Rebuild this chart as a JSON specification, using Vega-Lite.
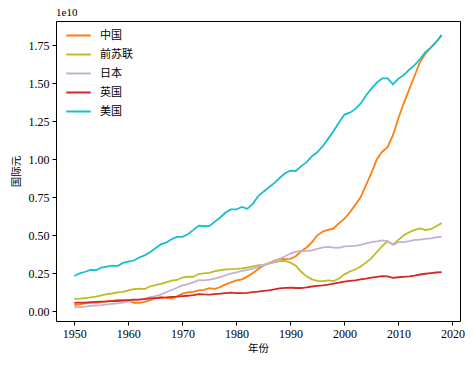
{
"$schema": "https://vega.github.io/schema/vega-lite/v6.json",
"width": 404,
"height": 300,
"autosize": {"type": "none"},
"padding": {"left": 56, "top": 21, "right": 14, "bottom": 45},
"background": "white",
"title": {"text": "1e10", "anchor": "start", "frame": "group", "offset": 3, "fontSize": 11, "fontWeight": "normal", "font": "Liberation Serif", "color": "#000"},
"config": {
  "view": {"stroke": "#000", "strokeWidth": 1},
  "axis": {"grid": false, "domain": false, "tickColor": "#000", "tickSize": 4, "labelColor": "#000", "labelFont": "Liberation Serif, Noto Sans CJK SC", "labelFontSize": 12, "titleFont": "Noto Sans CJK SC", "titleFontSize": 10.5, "titleFontWeight": "normal", "titleColor": "#000"}
},
"datasets": {
"gdp": [
{"c":"中国","year":1950,"v":0.040},{"c":"中国","year":1951,"v":0.045},{"c":"中国","year":1952,"v":0.052},{"c":"中国","year":1953,"v":0.055},{"c":"中国","year":1954,"v":0.057},{"c":"中国","year":1955,"v":0.060},{"c":"中国","year":1956,"v":0.065},{"c":"中国","year":1957,"v":0.068},{"c":"中国","year":1958,"v":0.075},{"c":"中国","year":1959,"v":0.075},{"c":"中国","year":1960,"v":0.072},{"c":"中国","year":1961,"v":0.056},{"c":"中国","year":1962,"v":0.056},{"c":"中国","year":1963,"v":0.062},{"c":"中国","year":1964,"v":0.073},{"c":"中国","year":1965,"v":0.085},{"c":"中国","year":1966,"v":0.093},{"c":"中国","year":1967,"v":0.088},{"c":"中国","year":1968,"v":0.084},{"c":"中国","year":1969,"v":0.098},{"c":"中国","year":1970,"v":0.116},{"c":"中国","year":1971,"v":0.124},{"c":"中国","year":1972,"v":0.128},{"c":"中国","year":1973,"v":0.138},{"c":"中国","year":1974,"v":0.141},{"c":"中国","year":1975,"v":0.152},{"c":"中国","year":1976,"v":0.148},{"c":"中国","year":1977,"v":0.159},{"c":"中国","year":1978,"v":0.177},{"c":"中国","year":1979,"v":0.190},{"c":"中国","year":1980,"v":0.203},{"c":"中国","year":1981,"v":0.210},{"c":"中国","year":1982,"v":0.228},{"c":"中国","year":1983,"v":0.250},{"c":"中国","year":1984,"v":0.277},{"c":"中国","year":1985,"v":0.300},{"c":"中国","year":1986,"v":0.315},{"c":"中国","year":1987,"v":0.332},{"c":"中国","year":1988,"v":0.345},{"c":"中国","year":1989,"v":0.343},{"c":"中国","year":1990,"v":0.345},{"c":"中国","year":1991,"v":0.362},{"c":"中国","year":1992,"v":0.395},{"c":"中国","year":1993,"v":0.420},{"c":"中国","year":1994,"v":0.455},{"c":"中国","year":1995,"v":0.500},{"c":"中国","year":1996,"v":0.525},{"c":"中国","year":1997,"v":0.535},{"c":"中国","year":1998,"v":0.545},{"c":"中国","year":1999,"v":0.580},{"c":"中国","year":2000,"v":0.610},{"c":"中国","year":2001,"v":0.650},{"c":"中国","year":2002,"v":0.700},{"c":"中国","year":2003,"v":0.750},{"c":"中国","year":2004,"v":0.830},{"c":"中国","year":2005,"v":0.910},{"c":"中国","year":2006,"v":1.000},{"c":"中国","year":2007,"v":1.050},{"c":"中国","year":2008,"v":1.080},{"c":"中国","year":2009,"v":1.160},{"c":"中国","year":2010,"v":1.270},{"c":"中国","year":2011,"v":1.370},{"c":"中国","year":2012,"v":1.460},{"c":"中国","year":2013,"v":1.550},{"c":"中国","year":2014,"v":1.640},{"c":"中国","year":2015,"v":1.695},{"c":"中国","year":2016,"v":1.735},{"c":"中国","year":2017,"v":1.772},{"c":"中国","year":2018,"v":1.815},
{"c":"前苏联","year":1950,"v":0.081},{"c":"前苏联","year":1951,"v":0.083},{"c":"前苏联","year":1952,"v":0.087},{"c":"前苏联","year":1953,"v":0.091},{"c":"前苏联","year":1954,"v":0.096},{"c":"前苏联","year":1955,"v":0.105},{"c":"前苏联","year":1956,"v":0.113},{"c":"前苏联","year":1957,"v":0.117},{"c":"前苏联","year":1958,"v":0.125},{"c":"前苏联","year":1959,"v":0.127},{"c":"前苏联","year":1960,"v":0.137},{"c":"前苏联","year":1961,"v":0.145},{"c":"前苏联","year":1962,"v":0.149},{"c":"前苏联","year":1963,"v":0.146},{"c":"前苏联","year":1964,"v":0.163},{"c":"前苏联","year":1965,"v":0.172},{"c":"前苏联","year":1966,"v":0.181},{"c":"前苏联","year":1967,"v":0.190},{"c":"前苏联","year":1968,"v":0.202},{"c":"前苏联","year":1969,"v":0.206},{"c":"前苏联","year":1970,"v":0.222},{"c":"前苏联","year":1971,"v":0.227},{"c":"前苏联","year":1972,"v":0.226},{"c":"前苏联","year":1973,"v":0.245},{"c":"前苏联","year":1974,"v":0.250},{"c":"前苏联","year":1975,"v":0.253},{"c":"前苏联","year":1976,"v":0.264},{"c":"前苏联","year":1977,"v":0.270},{"c":"前苏联","year":1978,"v":0.276},{"c":"前苏联","year":1979,"v":0.277},{"c":"前苏联","year":1980,"v":0.279},{"c":"前苏联","year":1981,"v":0.282},{"c":"前苏联","year":1982,"v":0.288},{"c":"前苏联","year":1983,"v":0.296},{"c":"前苏联","year":1984,"v":0.302},{"c":"前苏联","year":1985,"v":0.305},{"c":"前苏联","year":1986,"v":0.317},{"c":"前苏联","year":1987,"v":0.322},{"c":"前苏联","year":1988,"v":0.330},{"c":"前苏联","year":1989,"v":0.331},{"c":"前苏联","year":1990,"v":0.320},{"c":"前苏联","year":1991,"v":0.300},{"c":"前苏联","year":1992,"v":0.260},{"c":"前苏联","year":1993,"v":0.230},{"c":"前苏联","year":1994,"v":0.210},{"c":"前苏联","year":1995,"v":0.200},{"c":"前苏联","year":1996,"v":0.198},{"c":"前苏联","year":1997,"v":0.203},{"c":"前苏联","year":1998,"v":0.199},{"c":"前苏联","year":1999,"v":0.215},{"c":"前苏联","year":2000,"v":0.243},{"c":"前苏联","year":2001,"v":0.262},{"c":"前苏联","year":2002,"v":0.275},{"c":"前苏联","year":2003,"v":0.295},{"c":"前苏联","year":2004,"v":0.320},{"c":"前苏联","year":2005,"v":0.350},{"c":"前苏联","year":2006,"v":0.390},{"c":"前苏联","year":2007,"v":0.430},{"c":"前苏联","year":2008,"v":0.460},{"c":"前苏联","year":2009,"v":0.440},{"c":"前苏联","year":2010,"v":0.470},{"c":"前苏联","year":2011,"v":0.500},{"c":"前苏联","year":2012,"v":0.520},{"c":"前苏联","year":2013,"v":0.535},{"c":"前苏联","year":2014,"v":0.545},{"c":"前苏联","year":2015,"v":0.535},{"c":"前苏联","year":2016,"v":0.540},{"c":"前苏联","year":2017,"v":0.560},{"c":"前苏联","year":2018,"v":0.580},
{"c":"日本","year":1950,"v":0.025},{"c":"日本","year":1951,"v":0.028},{"c":"日本","year":1952,"v":0.031},{"c":"日本","year":1953,"v":0.035},{"c":"日本","year":1954,"v":0.038},{"c":"日本","year":1955,"v":0.041},{"c":"日本","year":1956,"v":0.045},{"c":"日本","year":1957,"v":0.049},{"c":"日本","year":1958,"v":0.052},{"c":"日本","year":1959,"v":0.057},{"c":"日本","year":1960,"v":0.063},{"c":"日本","year":1961,"v":0.070},{"c":"日本","year":1962,"v":0.076},{"c":"日本","year":1963,"v":0.083},{"c":"日本","year":1964,"v":0.093},{"c":"日本","year":1965,"v":0.100},{"c":"日本","year":1966,"v":0.110},{"c":"日本","year":1967,"v":0.125},{"c":"日本","year":1968,"v":0.140},{"c":"日本","year":1969,"v":0.155},{"c":"日本","year":1970,"v":0.170},{"c":"日本","year":1971,"v":0.178},{"c":"日本","year":1972,"v":0.190},{"c":"日本","year":1973,"v":0.204},{"c":"日本","year":1974,"v":0.203},{"c":"日本","year":1975,"v":0.208},{"c":"日本","year":1976,"v":0.215},{"c":"日本","year":1977,"v":0.225},{"c":"日本","year":1978,"v":0.237},{"c":"日本","year":1979,"v":0.248},{"c":"日本","year":1980,"v":0.256},{"c":"日本","year":1981,"v":0.265},{"c":"日本","year":1982,"v":0.272},{"c":"日本","year":1983,"v":0.280},{"c":"日本","year":1984,"v":0.290},{"c":"日本","year":1985,"v":0.303},{"c":"日本","year":1986,"v":0.312},{"c":"日本","year":1987,"v":0.325},{"c":"日本","year":1988,"v":0.345},{"c":"日本","year":1989,"v":0.362},{"c":"日本","year":1990,"v":0.380},{"c":"日本","year":1991,"v":0.392},{"c":"日本","year":1992,"v":0.396},{"c":"日本","year":1993,"v":0.397},{"c":"日本","year":1994,"v":0.400},{"c":"日本","year":1995,"v":0.410},{"c":"日本","year":1996,"v":0.420},{"c":"日本","year":1997,"v":0.424},{"c":"日本","year":1998,"v":0.419},{"c":"日本","year":1999,"v":0.418},{"c":"日本","year":2000,"v":0.427},{"c":"日本","year":2001,"v":0.429},{"c":"日本","year":2002,"v":0.430},{"c":"日本","year":2003,"v":0.437},{"c":"日本","year":2004,"v":0.447},{"c":"日本","year":2005,"v":0.455},{"c":"日本","year":2006,"v":0.460},{"c":"日本","year":2007,"v":0.467},{"c":"日本","year":2008,"v":0.462},{"c":"日本","year":2009,"v":0.437},{"c":"日本","year":2010,"v":0.455},{"c":"日本","year":2011,"v":0.455},{"c":"日本","year":2012,"v":0.462},{"c":"日本","year":2013,"v":0.470},{"c":"日本","year":2014,"v":0.472},{"c":"日本","year":2015,"v":0.477},{"c":"日本","year":2016,"v":0.480},{"c":"日本","year":2017,"v":0.487},{"c":"日本","year":2018,"v":0.490},
{"c":"英国","year":1950,"v":0.055},{"c":"英国","year":1951,"v":0.057},{"c":"英国","year":1952,"v":0.057},{"c":"英国","year":1953,"v":0.060},{"c":"英国","year":1954,"v":0.062},{"c":"英国","year":1955,"v":0.064},{"c":"英国","year":1956,"v":0.065},{"c":"英国","year":1957,"v":0.067},{"c":"英国","year":1958,"v":0.067},{"c":"英国","year":1959,"v":0.070},{"c":"英国","year":1960,"v":0.074},{"c":"英国","year":1961,"v":0.076},{"c":"英国","year":1962,"v":0.077},{"c":"英国","year":1963,"v":0.080},{"c":"英国","year":1964,"v":0.085},{"c":"英国","year":1965,"v":0.087},{"c":"英国","year":1966,"v":0.089},{"c":"英国","year":1967,"v":0.091},{"c":"英国","year":1968,"v":0.095},{"c":"英国","year":1969,"v":0.097},{"c":"英国","year":1970,"v":0.100},{"c":"英国","year":1971,"v":0.102},{"c":"英国","year":1972,"v":0.106},{"c":"英国","year":1973,"v":0.113},{"c":"英国","year":1974,"v":0.111},{"c":"英国","year":1975,"v":0.110},{"c":"英国","year":1976,"v":0.113},{"c":"英国","year":1977,"v":0.116},{"c":"英国","year":1978,"v":0.120},{"c":"英国","year":1979,"v":0.123},{"c":"英国","year":1980,"v":0.120},{"c":"英国","year":1981,"v":0.119},{"c":"英国","year":1982,"v":0.121},{"c":"英国","year":1983,"v":0.126},{"c":"英国","year":1984,"v":0.129},{"c":"英国","year":1985,"v":0.134},{"c":"英国","year":1986,"v":0.138},{"c":"英国","year":1987,"v":0.144},{"c":"英国","year":1988,"v":0.151},{"c":"英国","year":1989,"v":0.154},{"c":"英国","year":1990,"v":0.155},{"c":"英国","year":1991,"v":0.153},{"c":"英国","year":1992,"v":0.153},{"c":"英国","year":1993,"v":0.157},{"c":"英国","year":1994,"v":0.163},{"c":"英国","year":1995,"v":0.167},{"c":"英国","year":1996,"v":0.171},{"c":"英国","year":1997,"v":0.176},{"c":"英国","year":1998,"v":0.182},{"c":"英国","year":1999,"v":0.188},{"c":"英国","year":2000,"v":0.195},{"c":"英国","year":2001,"v":0.200},{"c":"英国","year":2002,"v":0.204},{"c":"英国","year":2003,"v":0.210},{"c":"英国","year":2004,"v":0.215},{"c":"英国","year":2005,"v":0.221},{"c":"英国","year":2006,"v":0.226},{"c":"英国","year":2007,"v":0.231},{"c":"英国","year":2008,"v":0.230},{"c":"英国","year":2009,"v":0.220},{"c":"英国","year":2010,"v":0.224},{"c":"英国","year":2011,"v":0.227},{"c":"英国","year":2012,"v":0.230},{"c":"英国","year":2013,"v":0.235},{"c":"英国","year":2014,"v":0.242},{"c":"英国","year":2015,"v":0.247},{"c":"英国","year":2016,"v":0.251},{"c":"英国","year":2017,"v":0.255},{"c":"英国","year":2018,"v":0.258},
{"c":"美国","year":1950,"v":0.232},{"c":"美国","year":1951,"v":0.250},{"c":"美国","year":1952,"v":0.260},{"c":"美国","year":1953,"v":0.272},{"c":"美国","year":1954,"v":0.270},{"c":"美国","year":1955,"v":0.288},{"c":"美国","year":1956,"v":0.294},{"c":"美国","year":1957,"v":0.300},{"c":"美国","year":1958,"v":0.297},{"c":"美国","year":1959,"v":0.318},{"c":"美国","year":1960,"v":0.326},{"c":"美国","year":1961,"v":0.334},{"c":"美国","year":1962,"v":0.354},{"c":"美国","year":1963,"v":0.368},{"c":"美国","year":1964,"v":0.389},{"c":"美国","year":1965,"v":0.414},{"c":"美国","year":1966,"v":0.440},{"c":"美国","year":1967,"v":0.452},{"c":"美国","year":1968,"v":0.474},{"c":"美国","year":1969,"v":0.489},{"c":"美国","year":1970,"v":0.490},{"c":"美国","year":1971,"v":0.507},{"c":"美国","year":1972,"v":0.534},{"c":"美国","year":1973,"v":0.564},{"c":"美国","year":1974,"v":0.561},{"c":"美国","year":1975,"v":0.560},{"c":"美国","year":1976,"v":0.590},{"c":"美国","year":1977,"v":0.617},{"c":"美国","year":1978,"v":0.650},{"c":"美国","year":1979,"v":0.670},{"c":"美国","year":1980,"v":0.670},{"c":"美国","year":1981,"v":0.687},{"c":"美国","year":1982,"v":0.674},{"c":"美国","year":1983,"v":0.705},{"c":"美国","year":1984,"v":0.756},{"c":"美国","year":1985,"v":0.787},{"c":"美国","year":1986,"v":0.814},{"c":"美国","year":1987,"v":0.843},{"c":"美国","year":1988,"v":0.877},{"c":"美国","year":1989,"v":0.908},{"c":"美国","year":1990,"v":0.925},{"c":"美国","year":1991,"v":0.923},{"c":"美国","year":1992,"v":0.955},{"c":"美国","year":1993,"v":0.981},{"c":"美国","year":1994,"v":1.020},{"c":"美国","year":1995,"v":1.047},{"c":"美国","year":1996,"v":1.087},{"c":"美国","year":1997,"v":1.136},{"c":"美国","year":1998,"v":1.186},{"c":"美国","year":1999,"v":1.242},{"c":"美国","year":2000,"v":1.294},{"c":"美国","year":2001,"v":1.307},{"c":"美国","year":2002,"v":1.330},{"c":"美国","year":2003,"v":1.366},{"c":"美国","year":2004,"v":1.420},{"c":"美国","year":2005,"v":1.465},{"c":"美国","year":2006,"v":1.505},{"c":"美国","year":2007,"v":1.533},{"c":"美国","year":2008,"v":1.533},{"c":"美国","year":2009,"v":1.493},{"c":"美国","year":2010,"v":1.531},{"c":"美国","year":2011,"v":1.555},{"c":"美国","year":2012,"v":1.590},{"c":"美国","year":2013,"v":1.620},{"c":"美国","year":2014,"v":1.660},{"c":"美国","year":2015,"v":1.705},{"c":"美国","year":2016,"v":1.735},{"c":"美国","year":2017,"v":1.772},{"c":"美国","year":2018,"v":1.820}
]
},
"data": {"name": "gdp"},
"mark": {"type": "line", "strokeWidth": 1.8, "clip": true},
"encoding": {
  "x": {"field": "year", "type": "quantitative", "title": "年份",
        "scale": {"domain": [1946.6, 2021.4], "nice": false, "zero": false},
        "axis": {"values": [1950, 1960, 1970, 1980, 1990, 2000, 2010, 2020], "format": "d", "labelPadding": 3, "titlePadding": 4}},
  "y": {"field": "v", "type": "quantitative", "title": "国际元",
        "scale": {"domain": [-0.064, 1.91], "nice": false, "zero": false},
        "axis": {"values": [0, 0.25, 0.5, 0.75, 1.0, 1.25, 1.5, 1.75], "format": ".2f", "labelPadding": 3, "titlePadding": 7}},
  "color": {"field": "c", "type": "nominal",
        "scale": {"domain": ["中国", "前苏联", "日本", "英国", "美国"], "range": ["#ff7f0e", "#bcbd22", "#c5b0d5", "#d62728", "#17becf"]},
        "legend": {"title": null, "orient": "none", "legendX": 9, "legendY": 1, "symbolType": "stroke", "symbolSize": 600, "symbolStrokeWidth": 2, "labelFont": "Noto Sans CJK SC", "labelFontSize": 11, "labelColor": "#000", "rowPadding": -1, "labelOffset": 8, "symbolOffset": 0}},
  "order": {"field": "year", "type": "quantitative"}
}
}
